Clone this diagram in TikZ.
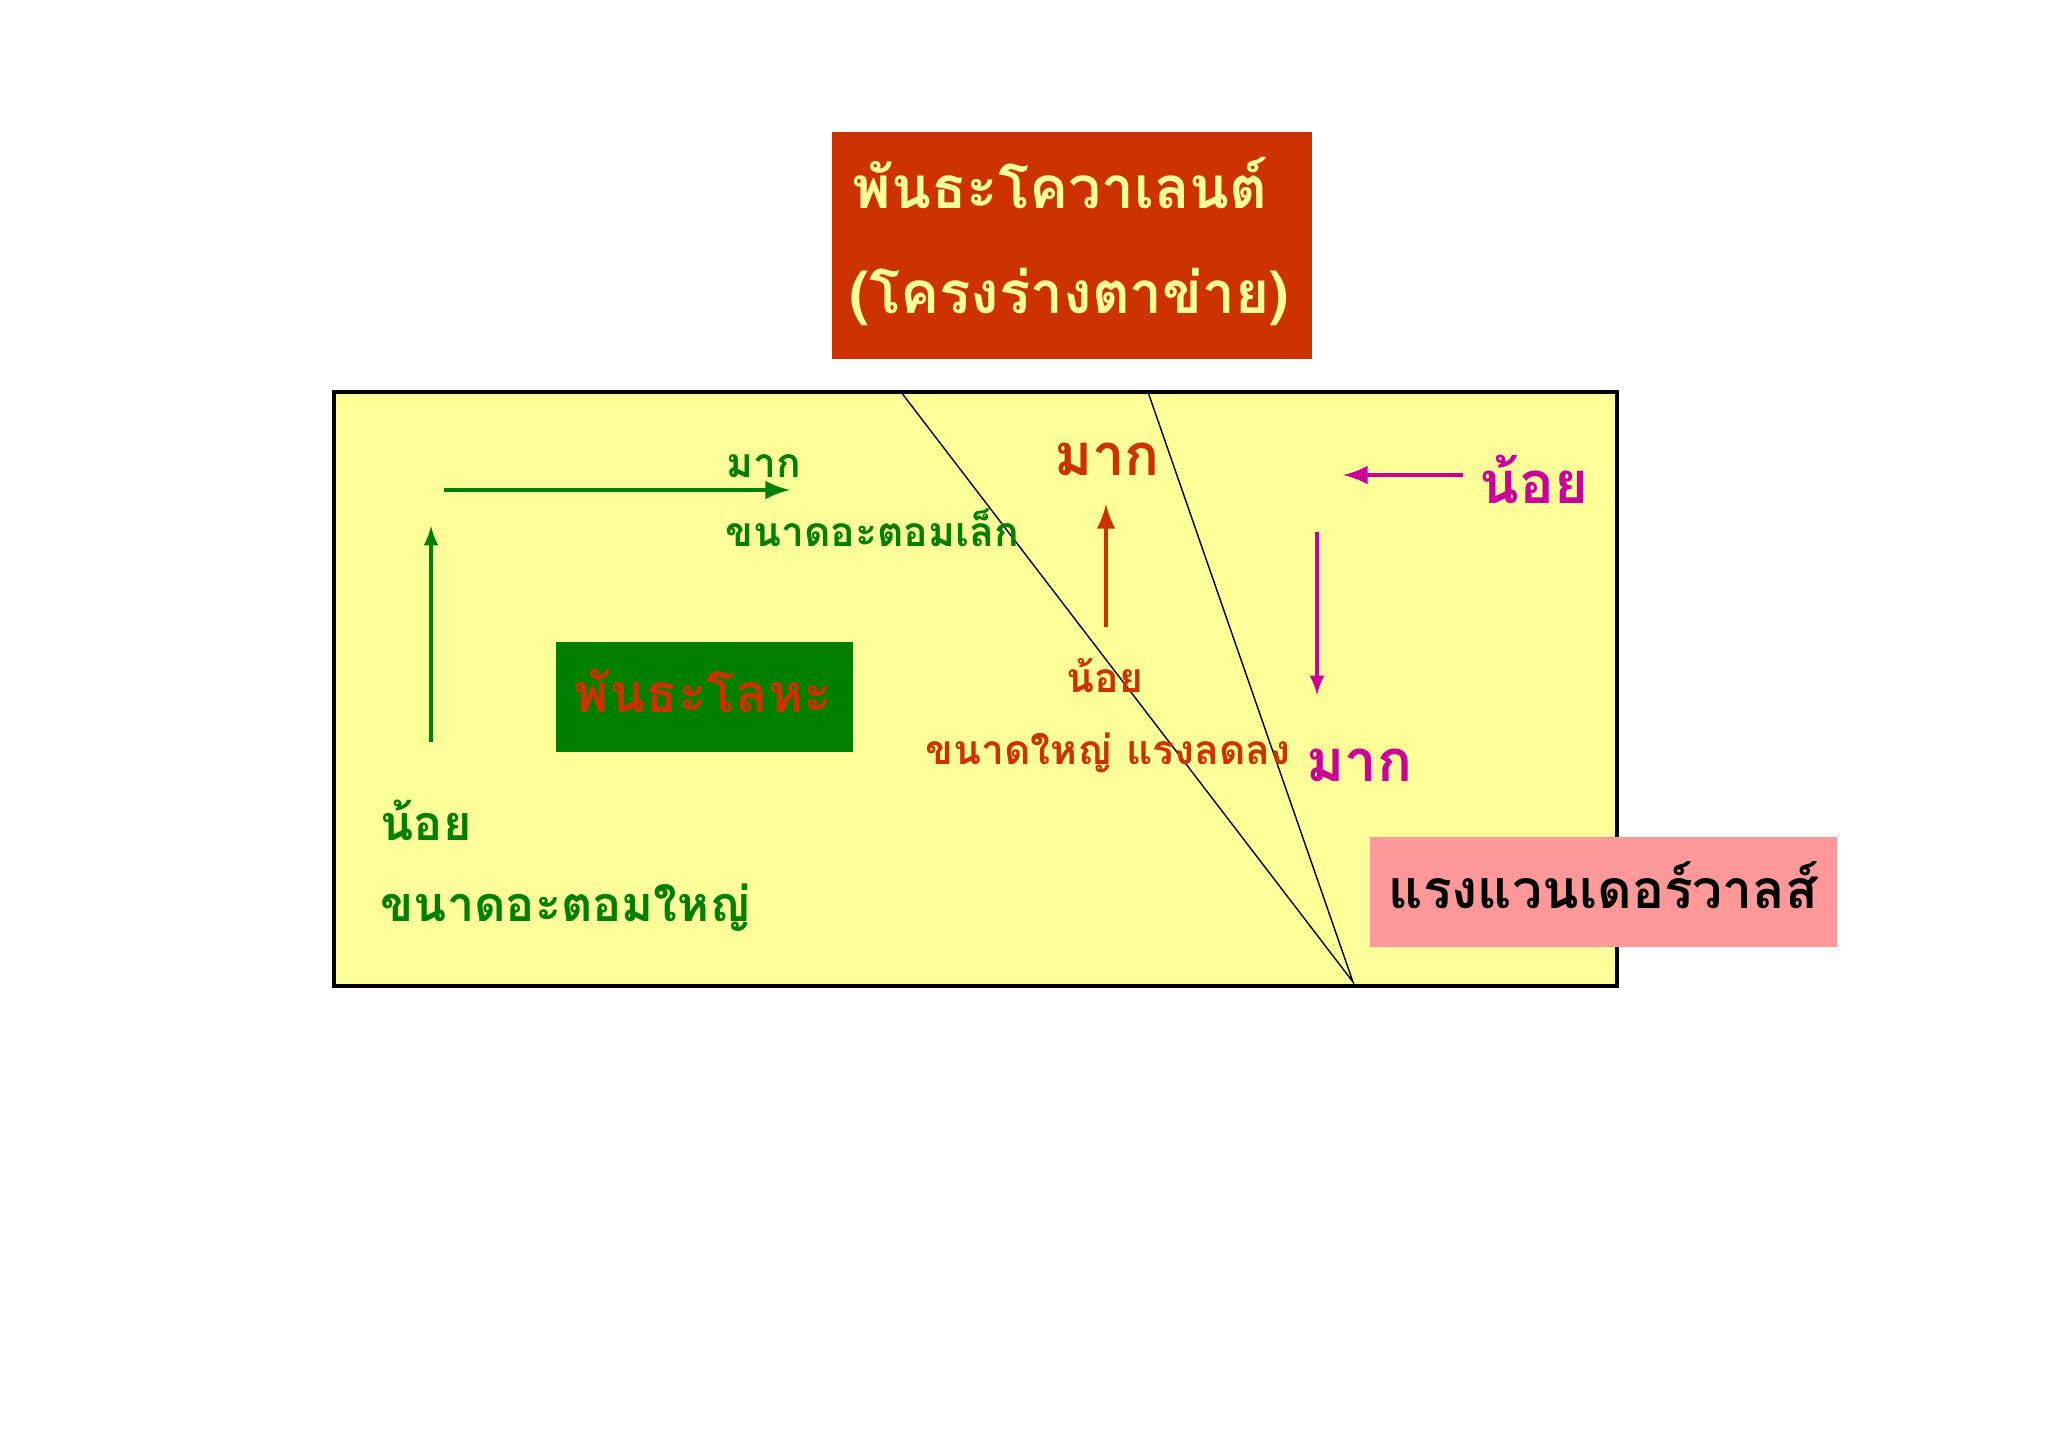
\documentclass[tikz,border=0pt]{standalone}
\usepackage{fontspec}
\newfontfamily\thaifont[Script=Thai]{Loma}
\usetikzlibrary{positioning}
\usetikzlibrary{arrows}

\definecolor{bondred}{HTML}{CC3300}
\definecolor{paleyellow}{HTML}{FFFF99}
\definecolor{metalgreen}{HTML}{007F00}
\definecolor{vdwpink}{HTML}{FF9999}
\definecolor{vdwmagenta}{HTML}{CC0099}

\begin{document}
\begin{tikzpicture}[x=0.01cm,y=-0.01cm,>=latex,
	color box/.style={inner sep=0pt,anchor=north west},
	thai text/.style={inner sep=0pt,anchor=base west,font=\thaifont\bfseries},
	head/.style={font=\thaifont\bfseries\fontsize{16.6}{20}\selectfont},
	big/.style={font=\thaifont\bfseries\fontsize{16.5}{20}\selectfont},
	boxed/.style={font=\thaifont\bfseries\fontsize{15.2}{18}\selectfont},
	mid/.style={font=\thaifont\bfseries\fontsize{13.8}{17}\selectfont},
	small/.style={font=\thaifont\bfseries\fontsize{11.6}{14}\selectfont},
	thick arrow/.style={->,line width=1.4pt},
	thin arrow/.style={->,line width=0.9pt}]

	\fill[white] (0,0) rectangle (2048,1448);
	\useasboundingbox (0,0) rectangle (2048,1448);

	% panel
	\draw[fill=paleyellow,line width=1.2pt] (334,392) rectangle (1617,986);
	\coordinate (p1) at (901,392);
	\coordinate (p2) at (1148,392);
	\coordinate (q) at (1353,982);
	\draw[line width=0.4pt] (p1) -- (q) -- (p2);

	% boxes
	\node[color box,fill=bondred,minimum width=4.8cm,minimum height=2.27cm] (hd) at (831,131) {};
	\node[color box,fill=metalgreen,minimum width=2.97cm,minimum height=1.10cm] (metal) at (555,641) {};
	\node[color box,fill=vdwpink,minimum width=4.67cm,minimum height=1.10cm] (vdw) at (1369,836) {};

	\node[thai text,head,text=paleyellow] (hd1) at (852,208) {พันธะโควาเลนต์};
	\node[thai text,head,text=paleyellow] (hd2) at (849,313) {(โครงร่างตาข่าย)};
	\node[thai text,boxed,text=bondred,anchor=base] (metal text) at (703,712) {พันธะโลหะ};
	\node[thai text,boxed,text=black] (vdw text) at (1388,908) {แรงแวนเดอร์วาลส์};

	% metallic side
	\node[thai text,small,text=metalgreen] (g more) at (726,477) {มาก};
	\node[thai text,small,text=metalgreen] (g small) at (725,546) {ขนาดอะตอมเล็ก};
	\node[thai text,mid,text=metalgreen] (g less) at (380,840) {น้อย};
	\node[thai text,mid,text=metalgreen] (g large) at (380,921) {ขนาดอะตอมใหญ่};

	% covalent side
	\node[thai text,big,text=bondred,anchor=base] (r more) at (1107,475) {มาก};
	\node[thai text,small,text=bondred,anchor=base] (r less) at (1105,692) {น้อย};
	\node[thai text,small,text=bondred] (r large) at (925,764) {ขนาดใหญ่ แรงลดลง};

	% van der Waals side
	\node[thai text,big,text=vdwmagenta] (m less) at (1479,503) {น้อย};
	\node[thai text,big,text=vdwmagenta] (m more) at (1306,781) {มาก};

	\coordinate (ga) at (444,490);
	\coordinate (gb) at (790,490);
	\coordinate (gc) at (431,742);
	\coordinate (gd) at (431,526);
	\coordinate (ra) at (1106,627);
	\coordinate (rb) at (1106,504);
	\coordinate (ma) at (1463,475);
	\coordinate (mb) at (1343,475);
	\coordinate (mc) at (1317,532);
	\coordinate (md) at (1317,695);

	\path
	(ga) edge [thick arrow,metalgreen] (gb)
	(gc) edge [thin arrow,metalgreen] (gd)
	(ra) edge [thick arrow,bondred] (rb)
	(ma) edge [thick arrow,vdwmagenta] (mb)
	(mc) edge [thin arrow,vdwmagenta] (md);
\end{tikzpicture}
\end{document}
